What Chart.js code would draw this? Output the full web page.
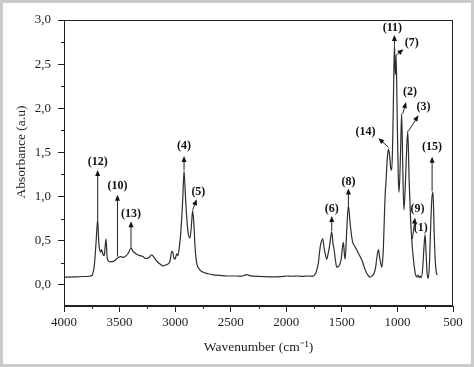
<!DOCTYPE html>
<html lang="en">
<head>
  <meta charset="UTF-8" />
  <title>FTIR spectrum</title>
  <script src="https://cdn.jsdelivr.net/npm/chart.js"></script>
  <style>
    body { margin: 0; padding: 0; background: #fff; }
    canvas { display: block; }
  </style>
</head>
<body>
  <canvas id="plot" width="474" height="367"></canvas>
  <script>
    // spectrum
    const wavenumber = [4000, 3900, 3826, 3770, 3750, 3742, 3727, 3712, 3697, 3688, 3680, 3670, 3662, 3652, 3644, 3637, 3622, 3612, 3600, 3586,
      3556, 3530, 3511, 3490, 3466, 3440, 3421, 3397, 3380, 3361, 3340, 3316, 3290, 3270, 3256, 3235, 3211, 3190, 3166, 3136,
      3106, 3085, 3060, 3046, 3031, 3022, 3010, 3001, 2986, 2975, 2962, 2950, 2932, 2920, 2908, 2895, 2881, 2866, 2852, 2843,
      2833, 2821, 2806, 2790, 2761, 2700, 2656, 2600, 2536, 2450, 2400, 2370, 2355, 2330, 2250, 2150, 2050, 1990, 1950, 1900,
      1860, 1800, 1770, 1756, 1740, 1725, 1711, 1700, 1690, 1672, 1660, 1651, 1636, 1624, 1612, 1591, 1580, 1570, 1558, 1546,
      1530, 1516, 1505, 1495, 1486, 1478, 1471, 1462, 1456, 1441, 1426, 1412, 1402, 1381, 1360, 1336, 1320, 1306, 1290, 1276,
      1260, 1246, 1230, 1210, 1196, 1186, 1171, 1162, 1156, 1141, 1133, 1126, 1118, 1111, 1102, 1092, 1081, 1070, 1060, 1051,
      1044, 1036, 1027, 1019, 1012, 1002, 992, 985, 972, 962, 950, 942, 930, 918, 907, 895, 882, 871, 860, 850,
      838, 826, 815, 805, 795, 785, 772, 760, 751, 742, 732, 721, 710, 700, 690, 680, 670, 660, 650, 642];
    const absorbance = [0.087, 0.089, 0.094, 0.097, 0.105, 0.12, 0.22, 0.47, 0.74, 0.50, 0.40, 0.37, 0.40, 0.36, 0.33, 0.34, 0.52, 0.31, 0.27, 0.26,
      0.265, 0.29, 0.31, 0.32, 0.31, 0.33, 0.36, 0.415, 0.38, 0.36, 0.34, 0.33, 0.32, 0.30, 0.30, 0.31, 0.34, 0.31, 0.27, 0.235,
      0.215, 0.225, 0.24, 0.27, 0.38, 0.37, 0.30, 0.29, 0.35, 0.33, 0.43, 0.58, 0.96, 1.29, 1.02, 0.75, 0.57, 0.53, 0.70, 0.84,
      0.72, 0.43, 0.245, 0.19, 0.15, 0.125, 0.113, 0.108, 0.10, 0.10, 0.098, 0.11, 0.115, 0.105, 0.095, 0.09, 0.093, 0.10, 0.097, 0.10,
      0.095, 0.10, 0.098, 0.10, 0.12, 0.17, 0.25, 0.38, 0.46, 0.52, 0.42, 0.36, 0.29, 0.35, 0.43, 0.60, 0.47, 0.40, 0.28, 0.20,
      0.21, 0.24, 0.30, 0.42, 0.48, 0.36, 0.29, 0.45, 0.62, 0.90, 0.70, 0.55, 0.48, 0.43, 0.38, 0.32, 0.28, 0.23, 0.17, 0.13,
      0.10, 0.087, 0.10, 0.13, 0.20, 0.30, 0.40, 0.33, 0.28, 0.20, 0.28, 0.43, 0.75, 1.00, 1.19, 1.42, 1.54, 1.46, 1.32, 1.30,
      1.55, 2.10, 2.72, 2.38, 2.60, 1.90, 1.20, 1.05, 1.50, 1.94, 1.20, 0.85, 1.10, 1.50, 1.74, 1.20, 0.75, 0.51, 0.34, 0.22,
      0.12, 0.09, 0.11, 0.08, 0.10, 0.08, 0.20, 0.45, 0.57, 0.35, 0.12, 0.075, 0.30, 0.70, 0.98, 1.05, 0.62, 0.28, 0.14, 0.11];

    // axis ticks
    const xTicks = [4000, 3500, 3000, 2500, 2000, 1500, 1000, 500];
    const xMinor = [3750, 3250, 2750, 2250, 1750, 1250, 750];
    const yTicks = [0, 0.5, 1, 1.5, 2, 2.5, 3];
    const yMinor = [0.25, 0.75, 1.25, 1.75, 2.25, 2.75];

    // peak labels: text, label position, arrow start -> arrow tip (wavenumber, absorbance)
    const peakText   = ["(12)", "(10)", "(13)", "(4)", "(5)", "(6)", "(8)", "(14)", "(11)", "(7)", "(2)", "(3)", "(15)", "(9)", "(1)"];
    const peakLabelW = [3697, 3519, 3397, 2920, 2791, 1591, 1441, 1287, 1045, 871, 886, 766, 688, 820, 790];
    const peakLabelA = [1.39, 1.12, 0.80, 1.57, 1.05, 0.86, 1.17, 1.73, 2.91, 2.74, 2.19, 2.02, 1.56, 0.86, 0.64];
    const arrowFromW = [3697, 3519, 3397, 2920, 2842, 1591, 1441, 1081, 1027, 1012, 952, 901, 688, 865, null];
    const arrowFromA = [0.74, 0.32, 0.42, 1.30, 0.85, 0.61, 0.90, 1.56, 2.72, 2.60, 1.94, 1.74, 1.06, 0.52, null];
    const arrowToW   = [3697, 3519, 3397, 2920, 2806, 1591, 1441, 1172, 1027, 946, 922, 811, 688, 841, null];
    const arrowToA   = [1.30, 1.02, 0.72, 1.46, 0.97, 0.78, 1.09, 1.66, 2.83, 2.67, 2.07, 1.92, 1.45, 0.76, null];

    const serif = '"Liberation Serif", "Times New Roman", serif';

    function drawArrow(ctx, x1, y1, x2, y2) {
      const ang = Math.atan2(y2 - y1, x2 - x1);
      const len = 6, half = 2.5;
      ctx.beginPath();
      ctx.moveTo(x1, y1);
      ctx.lineTo(x2 - Math.cos(ang) * len * 0.8, y2 - Math.sin(ang) * len * 0.8);
      ctx.stroke();
      ctx.beginPath();
      ctx.moveTo(x2, y2);
      ctx.lineTo(x2 - Math.cos(ang) * len - Math.sin(ang) * half, y2 - Math.sin(ang) * len + Math.cos(ang) * half);
      ctx.lineTo(x2 - Math.cos(ang) * len + Math.sin(ang) * half, y2 - Math.sin(ang) * len - Math.cos(ang) * half);
      ctx.closePath();
      ctx.fill();
    }

    const decor = {
      id: "decor",
      afterDatasetsDraw(chart) {
        const { ctx, chartArea: a, scales: { x, y } } = chart;
        ctx.save();
        ctx.strokeStyle = "#222";
        ctx.fillStyle = "#111";
        ctx.lineWidth = 1;
        ctx.strokeRect(Math.round(a.left) + 0.5, Math.round(a.top) + 0.5, Math.round(a.right - a.left) - 1, Math.round(a.bottom - a.top) - 1);

        // minor ticks
        ctx.beginPath();
        xMinor.forEach(v => {
          const px = Math.round(x.getPixelForValue(v)) + 0.5;
          ctx.moveTo(px, a.bottom); ctx.lineTo(px, a.bottom + 3);
        });
        yMinor.forEach(v => {
          const py = Math.round(y.getPixelForValue(v)) + 0.5;
          ctx.moveTo(a.left - 3, py); ctx.lineTo(a.left, py);
        });
        ctx.stroke();

        // arrows and peak labels
        peakText.forEach((t, i) => {
          if (arrowFromW[i] !== null) {
            drawArrow(ctx, x.getPixelForValue(arrowFromW[i]), y.getPixelForValue(arrowFromA[i]),
                      x.getPixelForValue(arrowToW[i]), y.getPixelForValue(arrowToA[i]));
          }
          ctx.font = "bold 12px " + serif;
          ctx.textAlign = "center";
          ctx.textBaseline = "middle";
          ctx.fillText(t, x.getPixelForValue(peakLabelW[i]), y.getPixelForValue(peakLabelA[i]));
        });

        // y axis title
        ctx.fillStyle = "#222";
        ctx.font = "13.5px " + serif;
        ctx.translate(21, 152);
        ctx.rotate(-Math.PI / 2);
        ctx.fillText("Absorbance (a.u)", 0, 0);
        ctx.restore();
      },
      afterDraw(chart) {
        const ctx = chart.ctx;
        ctx.save();
        ctx.strokeStyle = "#cbcbcb";
        ctx.lineWidth = 3;
        ctx.strokeRect(1.5, 1.5, chart.width - 3, chart.height - 3);
        ctx.restore();
      }
    };

    new Chart(document.getElementById("plot").getContext("2d"), {
      type: "line",
      data: {
        datasets: [{
          data: wavenumber.map((w, i) => ({ x: w, y: absorbance[i] })),
          borderColor: "#2e2e2e",
          borderWidth: 1.2,
          pointRadius: 0,
          fill: false,
          cubicInterpolationMode: "monotone"
        }]
      },
      options: {
        responsive: false,
        animation: false,
        layout: { padding: { left: 0, right: 21, top: 20, bottom: 0 } },
        plugins: { legend: { display: false }, tooltip: { enabled: false } },
        scales: {
          x: {
            type: "linear",
            reverse: true,
            min: 500,
            max: 4000,
            afterBuildTicks: s => { s.ticks = xTicks.map(v => ({ value: v })); },
            afterFit: s => { s.height = 61; },
            ticks: { color: "#222", font: { family: serif, size: 13 }, padding: 3, maxRotation: 0, callback: v => String(v) },
            grid: { drawOnChartArea: false, drawTicks: true, tickLength: 6, color: "#222" },
            border: { display: true, color: "#222", width: 1 },
            title: { display: true, text: "Wavenumber (cm⁻¹)", color: "#222", font: { family: serif, size: 13.5 }, padding: { top: 0, bottom: 11 } }
          },
          y: {
            type: "linear",
            min: -0.24,
            max: 3.0,
            afterBuildTicks: s => { s.ticks = yTicks.map(v => ({ value: v })); },
            afterFit: s => { s.width = 64; },
            ticks: { color: "#222", font: { family: serif, size: 13 }, padding: 7, callback: v => v.toFixed(1).replace(".", ",") },
            grid: { drawOnChartArea: false, drawTicks: true, tickLength: 6, color: "#222" },
            border: { display: true, color: "#222", width: 1 }
          }
        }
      },
      plugins: [decor]
    });
  </script>
</body>
</html>
